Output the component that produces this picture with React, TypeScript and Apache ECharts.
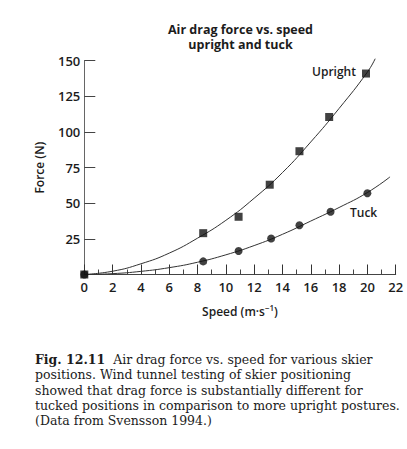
import React, { useEffect, useRef } from "react";
import * as echarts from "echarts";

const titleLines = ["Air drag force vs. speed", "upright and tuck"];
const xTicks = [0, 2, 4, 6, 8, 10, 12, 14, 16, 18, 20, 22];
const yTicks = [0, 25, 50, 75, 100, 125, 150];

// measured points
const uprightPoints: [number, number][] = [
  [0, 0], [8.4, 29], [10.9, 40.5], [13.1, 63], [15.2, 86.5], [17.3, 110.5], [19.9, 141],
];
const tuckPoints: [number, number][] = [
  [0, 0], [8.4, 9.2], [10.9, 16.5], [13.2, 25.3], [15.2, 34.5], [17.4, 44], [20, 57],
];
// fitted curves
const uprightCurve: [number, number][] = [
  [0, 0], [2, 2.3], [4, 7.5], [6, 15], [8, 25.5], [10, 38], [12, 53.5], [14, 71.5],
  [16, 93], [18, 116.5], [20, 142], [20.55, 151.4],
];
const tuckCurve: [number, number][] = [
  [0, 0], [2, 0.6], [4, 2.2], [6, 4.8], [8, 8.6], [10, 13.8], [12, 20.3], [14, 28.2],
  [16, 37.5], [18, 47], [20, 57.5], [21.6, 68.5],
];
const seriesNames = ["Upright", "Tuck"];
const captionLines = [
  "{b|Fig. 12.11}  Air drag force vs. speed for various skier",
  "positions. Wind tunnel testing of skier positioning",
  "showed that drag force is substantially different for",
  "tucked positions in comparison to more upright postures.",
  "(Data from Svensson 1994.)",
];

const INK = "#1c1c1c";
const SANS = "'Open Sans', 'DejaVu Sans', sans-serif";
const SERIF = "'DejaVu Serif', 'Liberation Serif', serif";

export default function App() {
  const ref = useRef<HTMLDivElement>(null);
  useEffect(() => {
    if (!ref.current) return;
    const chart = echarts.init(ref.current, null, { renderer: "svg" });
    chart.setOption({
      animation: false,
      backgroundColor: "#ffffff",
      grid: { left: 84.3, right: 11.3, top: 60.7, bottom: 174.5, containLabel: false },
      xAxis: {
        type: "value",
        min: xTicks[0],
        max: xTicks[xTicks.length - 1],
        interval: 2,
        name: "Speed (m·s{sup|−1})",
        nameLocation: "middle",
        nameGap: 29,
        nameTextStyle: {
          color: INK, fontFamily: SANS, fontSize: 12, fontWeight: 600,
          rich: { sup: { fontSize: 8, fontFamily: SANS, fontWeight: 600, color: INK, padding: [0, 0, 8, 0] } },
        },
        axisLine: { show: true, lineStyle: { color: "#444", width: 1 } },
        axisTick: { show: true, inside: true, length: 10, lineStyle: { color: "#333" } },
        minorTick: { show: true, splitNumber: 2, length: 5, lineStyle: { color: "#444" } },
        axisLabel: { color: INK, fontFamily: SANS, fontSize: 13, fontWeight: 600, margin: 6 },
        splitLine: { show: false },
      },
      yAxis: {
        type: "value",
        min: yTicks[0],
        max: yTicks[yTicks.length - 1],
        interval: 25,
        name: "Force (N)",
        nameLocation: "middle",
        nameGap: 39,
        nameTextStyle: { color: INK, fontFamily: SANS, fontSize: 12, fontWeight: 600 },
        axisLine: { show: true, lineStyle: { color: "#666", width: 1 } },
        axisTick: { show: true, inside: true, length: 11, lineStyle: { color: "#444" } },
        axisLabel: { color: INK, fontFamily: SANS, fontSize: 13, fontWeight: 600, margin: 4, showMinLabel: false },
        splitLine: { show: false },
      },
      series: [
        {
          name: seriesNames[0] + " fit", type: "line", data: uprightCurve, smooth: true,
          showSymbol: false, clip: false, lineStyle: { color: "#333", width: 1 }, z: 1,
        },
        {
          name: seriesNames[1] + " fit", type: "line", data: tuckCurve, smooth: true,
          showSymbol: false, clip: false, lineStyle: { color: "#333", width: 1 }, z: 1,
        },
        {
          name: seriesNames[0], type: "scatter", data: uprightPoints, symbol: "rect", symbolSize: 8,
          itemStyle: { color: "#111" }, z: 3,
        },
        {
          name: seriesNames[1], type: "scatter", data: tuckPoints, symbol: "circle", symbolSize: 8,
          itemStyle: { color: "#111" }, z: 3,
        },
      ],
      graphic: [
        {
          type: "text", x: 240.5, y: 29.2,
          style: {
            text: titleLines[0], fill: INK, font: `bold 12.5px ${SANS}`,
            textAlign: "center", textVerticalAlign: "middle",
          },
        },
        {
          type: "text", x: 240.5, y: 44.8,
          style: {
            text: titleLines[1], fill: INK, font: `bold 12.5px ${SANS}`,
            textAlign: "center", textVerticalAlign: "middle",
          },
        },
        {
          type: "text", x: 312, y: 65,
          style: { text: seriesNames[0], fill: INK, font: `600 12px ${SANS}` },
        },
        {
          type: "text", x: 350, y: 206,
          style: { text: seriesNames[1], fill: INK, font: `600 12px ${SANS}` },
        },
        {
          type: "text", x: 35, y: 352,
          style: {
            text: captionLines.join("\n"), fill: INK, font: `12.5px ${SERIF}`, lineHeight: 15.3,
            rich: { b: { fontWeight: "bold", fontFamily: SERIF, fontSize: 12.5, lineHeight: 15.3 } },
          },
        },
      ],
    });
    return () => chart.dispose();
  }, []);
  return (
    <div
      ref={ref}
      style={{ position: "fixed", left: 0, top: 0, width: 407, height: 449, background: "#fff" }}
    />
  );
}
